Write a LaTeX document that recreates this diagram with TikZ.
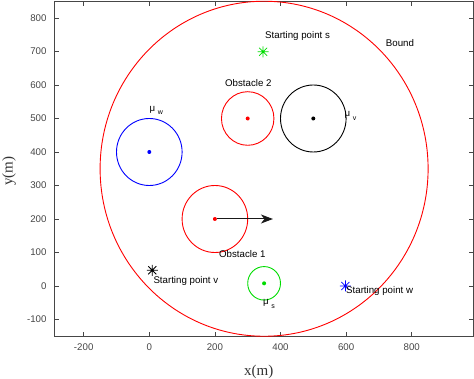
\documentclass[tikz,border=0pt]{standalone}
\usepackage{fontspec}
\setmainfont{Liberation Sans}
\newfontfamily\axserif{Liberation Serif}
\usetikzlibrary{arrows.meta}
\definecolor{mgreen}{RGB}{0,220,0}
\definecolor{axgray}{RGB}{70,70,70}
\begin{document}
\begin{tikzpicture}[x=1pt,y=-1pt,
  lbl/.style={font=\fontsize{9.7}{11}\selectfont, inner sep=0pt, anchor=west},
  mulbl/.style={font=\fontsize{9.7}{11}\selectfont, inner sep=0pt, anchor=base west},
  tick/.style={font=\fontsize{9.7}{11}\selectfont, text=axgray, inner sep=0pt},
  axlbl/.style={font=\axserif\fontsize{15}{17}\selectfont, text=black!80, inner sep=0pt},
  dot/.style={circle, fill, inner sep=0pt, minimum size=4pt},
  ring/.style={line width=0.9pt},
  pics/astk/.style={code={\draw[line width=0.75pt] (-5.5pt,0)--(5.5pt,0) (0,-5.5pt)--(0,5.5pt) (-4pt,-4pt)--(4pt,4pt) (-4pt,4pt)--(4pt,-4pt);}}
]
\useasboundingbox (0,0) rectangle (474,379);
\coordinate (O) at (149.3,286);
\begin{scope}[shift={(O)}, x=0.328pt, y=0.335pt]
  % axes box and ticks
  \draw[axgray, line width=0.8pt] (-288.4,-150) rectangle (986.9,850);
  \foreach \t in {-200,0,200,400,600,800} {
    \draw[axgray, line width=0.6pt] (\t,-150) -- ++(0,4.5pt);
    \draw[axgray, line width=0.6pt] (\t,850) -- ++(0,-4.5pt);
    \node[tick, yshift=-11pt] (xt\t) at (\t,-150) {\t};
  }
  \foreach \t in {-100,0,100,200,300,400,500,600,700,800} {
    \draw[axgray, line width=0.6pt] (-288.4,\t) -- ++(4.5pt,0);
    \draw[axgray, line width=0.6pt] (986.9,\t) -- ++(-4.5pt,0);
    \node[tick, anchor=east, xshift=-8pt] (yt\t) at (-288.4,\t) {\t};
  }
  % circles
  \draw[ring, red] (350,350) circle [x radius=500, y radius=500];
  \draw[ring, red] (200,200) circle [x radius=100, y radius=100];
  \draw[ring, red] (300,500) circle [x radius=80, y radius=80];
  \draw[ring, black] (500,500) circle [x radius=100, y radius=100];
  \draw[ring, blue] (0,400) circle [x radius=100, y radius=100];
  \draw[ring, mgreen] (350,8) circle [x radius=50, y radius=50];
  % centre dots
  \node[dot, red] (o1) at (200,200) {};
  \node[dot, red] (o2) at (300,500) {};
  \node[dot, black] (cv) at (500,500) {};
  \node[dot, blue] (cw) at (0,400) {};
  \node[dot, mgreen] (cs) at (350,8) {};
  % velocity arrow
  \coordinate (tip) at (377,200);
  \draw[-{Stealth[length=12pt,width=9pt,inset=3.5pt]}, line width=1pt, black!90] (o1) -- (tip);
  % starting points
  \pic[mgreen] at (347,699) {astk};
  \pic[black] at (9,47) {astk};
  \pic[blue] at (598,0) {astk};
\end{scope}
% labels (pixel coordinates)
\node[lbl] (ls) at (265,35.7) {Starting point s};
\node[lbl] (lb) at (385.7,42.7) {Bound};
\node[lbl] (lo2) at (225,82.7) {Obstacle 2};
\node[lbl] (lo1) at (219,254) {Obstacle 1};
\node[lbl] (lv) at (153.3,280.7) {Starting point v};
\node[lbl] (lw) at (346,290.5) {Starting point w};
\node[mulbl] (mv) at (344.5,117) {μ\hspace{2.5pt}\raisebox{-3.3pt}{\fontsize{7}{8}\selectfont v}};
\node[mulbl] (mw) at (149.5,111.7) {μ\hspace{2.5pt}\raisebox{-3.3pt}{\fontsize{7}{8}\selectfont w}};
\node[mulbl] (ms) at (263,305) {μ\hspace{2.5pt}\raisebox{-3.3pt}{\fontsize{7}{8}\selectfont s}};
\node[axlbl] (xl) at (258.7,371.5) {x(m)};
\node[axlbl, rotate=90] (yl) at (9,171) {y(m)};
\end{tikzpicture}
\end{document}
